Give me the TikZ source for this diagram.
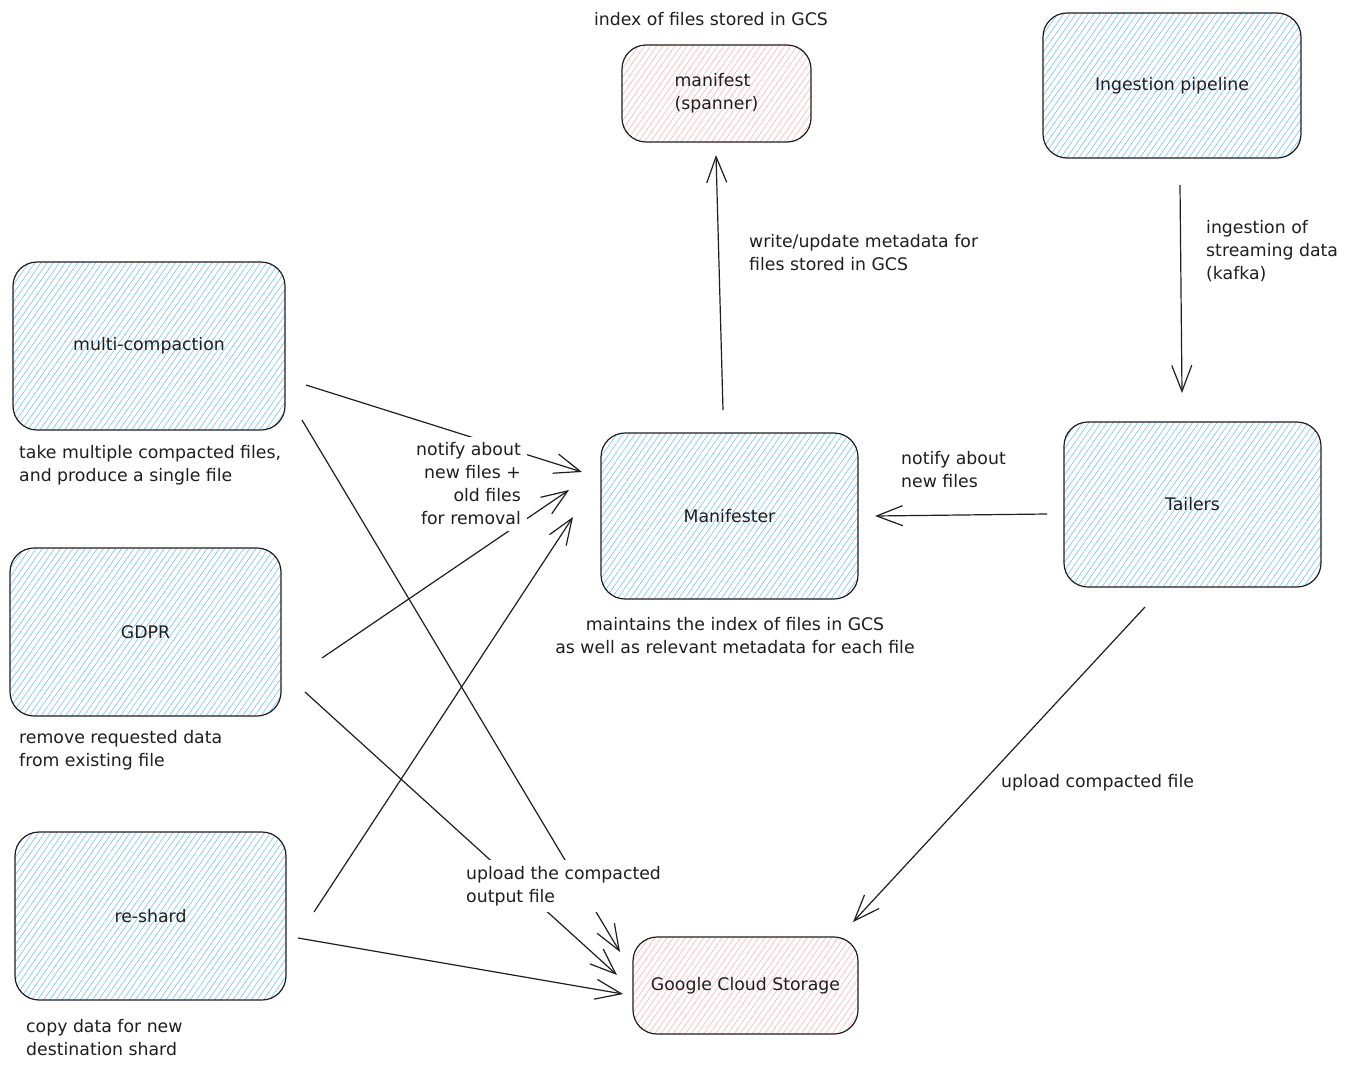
\documentclass[tikz,border=0pt]{standalone}
\usepackage{fontspec}
\setmainfont{DejaVu Sans}
\usetikzlibrary{arrows.meta,patterns.meta}
\definecolor{hblue}{HTML}{74C0FC}
\definecolor{hpink}{HTML}{FFB3B3}
\definecolor{ink}{HTML}{1E1E1E}
\begin{document}
\begin{tikzpicture}[x=1pt,y=-1pt,
  txt/.style={font=\fontsize{17.3}{23}\selectfont, text=ink, inner sep=0pt},
  box/.style={txt, draw=ink, line width=1.2pt, rounded corners=24pt, inner sep=0pt},
  bluebox/.style={box, pattern={Lines[angle=55,distance=5pt,line width=0.6pt]}, pattern color=hblue},
  pinkbox/.style={box, pattern={Lines[angle=55,distance=5pt,line width=0.6pt]}, pattern color=hpink},
  conn/.style={draw=ink, line width=1.2pt, -{Straight Barb[length=26pt,width=20pt,line width=1.2pt]}},
  mask/.style={txt, fill=white, inner sep=6pt}
]
\useasboundingbox (0,0) rectangle (1358,1071);

% boxes
\node[pinkbox, minimum width=189pt, minimum height=97pt, align=left] (manifest) at (716.5,93.5) {manifest\\(spanner)};
\node[bluebox, minimum width=258pt, minimum height=145pt] (ingest) at (1172,85.5) {Ingestion pipeline};
\node[bluebox, minimum width=272pt, minimum height=168pt] (multi) at (149,346) {multi-compaction};
\node[bluebox, minimum width=271pt, minimum height=168pt] (gdpr) at (145.5,632) {GDPR};
\node[bluebox, minimum width=271pt, minimum height=168pt] (reshard) at (150.5,916) {re-shard};
\node[bluebox, minimum width=257pt, minimum height=166pt] (manifester) at (729.5,516) {Manifester};
\node[bluebox, minimum width=257pt, minimum height=165pt] (tailers) at (1192.5,504.5) {Tailers};
\node[pinkbox, minimum width=225pt, minimum height=97pt] (gcs) at (745.5,985.5) {Google Cloud Storage};

% connector end points
\coordinate (c1s) at (306,385);  \coordinate (c1e) at (582,472);
\coordinate (c2s) at (302,420);  \coordinate (c2e) at (620,952);
\coordinate (c3s) at (322,658);  \coordinate (c3e) at (569,490);
\coordinate (c4s) at (305,692);  \coordinate (c4e) at (617,975);
\coordinate (c5s) at (314,912);  \coordinate (c5e) at (573,517);
\coordinate (c6s) at (298,938);  \coordinate (c6e) at (623,994);
\coordinate (c7s) at (1047,514); \coordinate (c7e) at (875,516);
\coordinate (c8s) at (1180,185); \coordinate (c8e) at (1182,393);
\coordinate (c9s) at (723,410);  \coordinate (c9e) at (716,155);
\coordinate (c10s) at (1145,607); \coordinate (c10e) at (853,922);

% connectors
\draw[conn] (c1s) -- (c1e);
\draw[conn] (c2s) -- (c2e);
\draw[conn] (c3s) -- (c3e);
\draw[conn] (c4s) -- (c4e);
\draw[conn] (c5s) -- (c5e);
\draw[conn] (c6s) -- (c6e);
\draw[conn] (c7s) -- (c7e);
\draw[conn] (c8s) -- (c8e);
\draw[conn] (c9s) -- (c9e);
\draw[conn] (c10s) -- (c10e);

% labels
\node[mask, align=right, anchor=east] (lnotify) at (527,484) {notify about\\new files +\\old files\\for removal};
\node[mask, align=left, anchor=west] (lupload) at (460,886) {upload the compacted\\output file};
\node[txt] (lidx) at (711,19) {index of files stored in GCS};
\node[txt, align=left, anchor=west] (lmulti) at (19,465) {take multiple compacted files,\\and produce a single file};
\node[txt, align=left, anchor=west] (lgdpr) at (19,750) {remove requested data\\from existing file};
\node[txt, align=left, anchor=west] (lreshard) at (26,1038) {copy data for new\\destination shard};
\node[txt, align=center] (lmanifester) at (735,636) {maintains the index of files in GCS\\as well as relevant metadata for each file};
\node[txt, align=left, anchor=west] (lwrite) at (749,253) {write/update metadata for\\files stored in GCS};
\node[txt, align=left, anchor=west] (lingest) at (1206,251) {ingestion of\\streaming data\\(kafka)};
\node[txt, align=left, anchor=west] (ltailers) at (901,470) {notify about\\new files};
\node[txt, anchor=west] (luploadc) at (1001,783) {upload compacted file};
\end{tikzpicture}
\end{document}
